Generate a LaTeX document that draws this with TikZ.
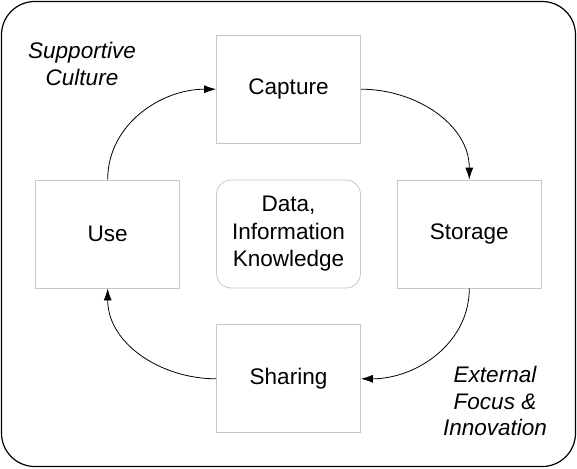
\documentclass[tikz,border=0pt]{standalone}
\usepackage{fontspec}
\setmainfont{Liberation Sans}
\usetikzlibrary{arrows.meta,positioning}

\tikzset{
  stagebox/.style={draw=black!22, line width=0.6pt, minimum width=108pt, minimum height=81pt, align=center, font=\fontsize{16.9}{20.6}\selectfont},
  corebox/.style={stagebox, rounded corners=11pt},
  cyclearrow/.style={-{Latex[length=9pt,width=6pt]}, line width=0.6pt},
  sidenote/.style={align=center, font=\fontsize{16.9}{19.9}\selectfont\itshape}
}

\begin{document}
\begin{tikzpicture}[x=0.75pt, y=-0.75pt, node distance=27pt]
\useasboundingbox (0,0) rectangle (577,468);
\draw[line width=0.9pt, rounded corners=25pt] (1.5,1.5) rectangle (575.5,466.5);

% the cycle round the centre box
\node[corebox] (data) at (288.5,234) {Data,\\Information\\Knowledge};
\node[stagebox, above=of data] (capture) {Capture};
\node[stagebox, right=of data] (storage) {Storage};
\node[stagebox, below=of data] (sharing) {Sharing};
\node[stagebox, left=of data] (use) {Use};

\draw[cyclearrow] (use.north) to[out=90, in=180] (capture.west);
\draw[cyclearrow] (capture.east) to[out=0, in=90] (storage.north);
\draw[cyclearrow] (storage.south) to[out=-90, in=0] (sharing.east);
\draw[cyclearrow] (sharing.west) to[out=180, in=-90] (use.south);

\node[sidenote] (culture) at (82,64) {Supportive\\Culture};
\node[sidenote] (external) at (495,401) {External\\Focus \&\\Innovation};
\end{tikzpicture}
\end{document}
